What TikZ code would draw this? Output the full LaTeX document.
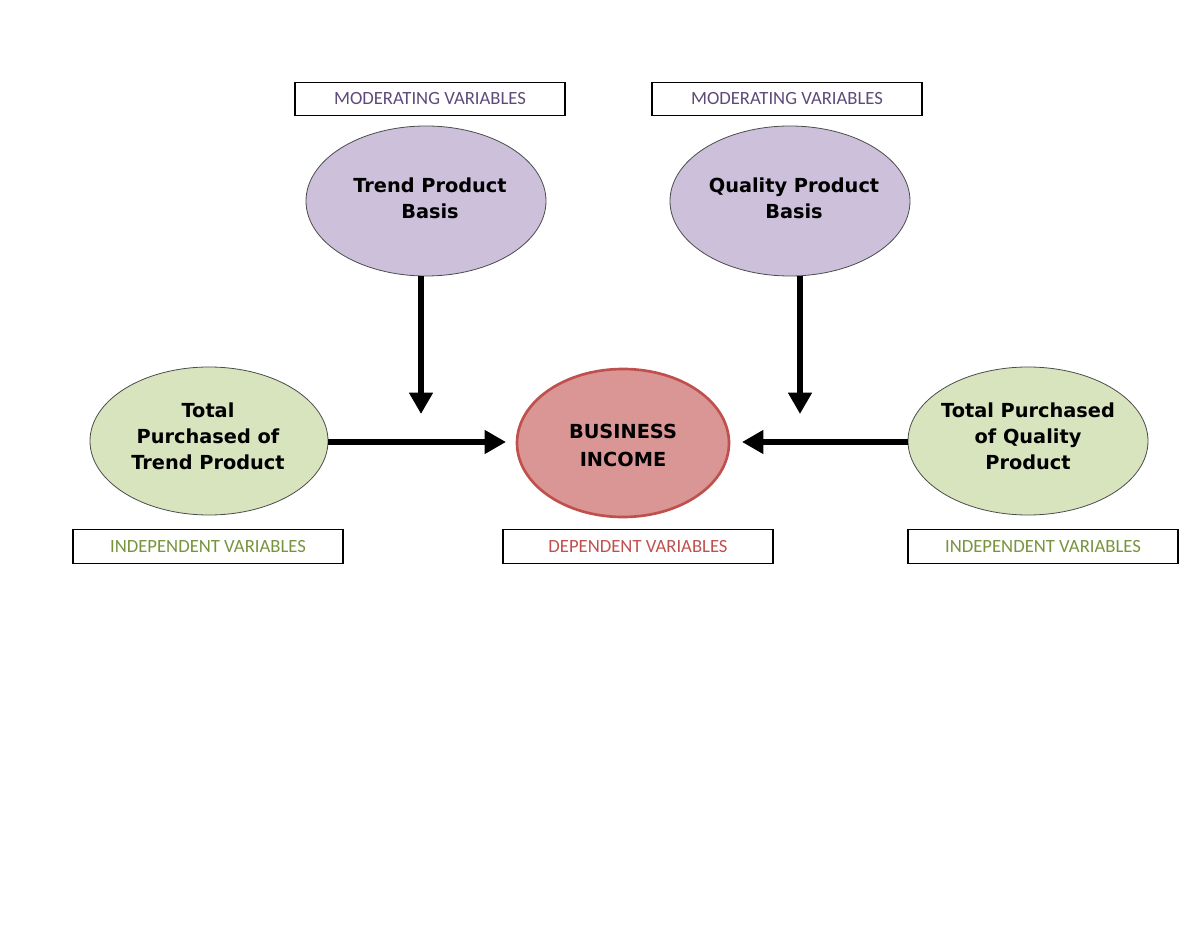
\documentclass[tikz,border=0pt]{standalone}
\usepackage{fontspec}
\setmainfont{DejaVu Sans}
\newfontfamily\boxfont{Carlito}
\usetikzlibrary{shapes.geometric,arrows.meta}
\definecolor{modpurple}{HTML}{5F497A}
\definecolor{indgreen}{HTML}{77933C}
\definecolor{depred}{HTML}{C0504D}
\definecolor{lilac}{HTML}{CCC0DA}
\definecolor{palegreen}{HTML}{D7E4BD}
\definecolor{rose}{HTML}{D99694}
\tikzset{
  lbox/.style={draw=black, line width=0.8pt, minimum width=202.5pt, minimum height=25pt, inner sep=0pt, font=\boxfont\fontsize{14}{16}\selectfont},
  oval/.style={ellipse, draw=black!70, line width=0.6pt, inner sep=0pt},
  otext/.style={align=center, inner sep=0pt, font=\bfseries\fontsize{14.5}{19.5}\selectfont},
  bigarrow/.style={line width=4.5pt, -{Triangle[length=16pt,width=17pt]}},
}
\begin{document}
\begin{tikzpicture}[x=0.75pt,y=-0.75pt]
\useasboundingbox (0,0) rectangle (1200,927);
% label boxes
\node[lbox, text=modpurple] (m1) at (430,99) {MODERATING VARIABLES};
\node[lbox, text=modpurple] (m2) at (787,99) {MODERATING VARIABLES};
\node[lbox, text=indgreen] (i1) at (208,546.5) {INDEPENDENT VARIABLES};
\node[lbox, text=depred] (d1) at (638,546.5) {DEPENDENT VARIABLES};
\node[lbox, text=indgreen] (i2) at (1043,546.5) {INDEPENDENT VARIABLES};
% ellipses
\node[oval, fill=lilac, minimum width=180pt, minimum height=112.5pt] (tpb) at (426,201) {};
\node[oval, fill=lilac, minimum width=180pt, minimum height=112.5pt] (qpb) at (790,201) {};
\node[oval, fill=palegreen, minimum width=178.5pt, minimum height=111pt] (tpt) at (209,441) {};
\node[oval, fill=palegreen, minimum width=180pt, minimum height=111pt] (tpq) at (1028,441) {};
\node[oval, fill=rose, draw=depred, line width=2pt, minimum width=159pt, minimum height=111pt] (bi) at (623,443) {};
% ellipse texts
\node[otext] (tpbt) at (430,198) {Trend Product\\Basis};
\node[otext] (qpbt) at (794,198) {Quality Product\\Basis};
\node[otext] (tptt) at (208,436) {Total\\Purchased of\\Trend Product};
\node[otext] (tpqt) at (1028,436) {Total Purchased\\of Quality\\Product};
\node[otext, font=\bfseries\fontsize{14.5}{20.5}\selectfont] (bit) at (623,445.5) {BUSINESS\\INCOME};
% arrow end points
\coordinate (e1) at (421,414);
\coordinate (e2) at (800,414);
\coordinate (e3) at (506,442);
\coordinate (e4) at (742,442);
% arrows
\draw[bigarrow] (e1 |- tpb.south) -- (e1);
\draw[bigarrow] (e2 |- qpb.south) -- (e2);
\draw[bigarrow] (tpt.east |- e3) -- (e3);
\draw[bigarrow] (tpq.west |- e4) -- (e4);
\end{tikzpicture}
\end{document}
